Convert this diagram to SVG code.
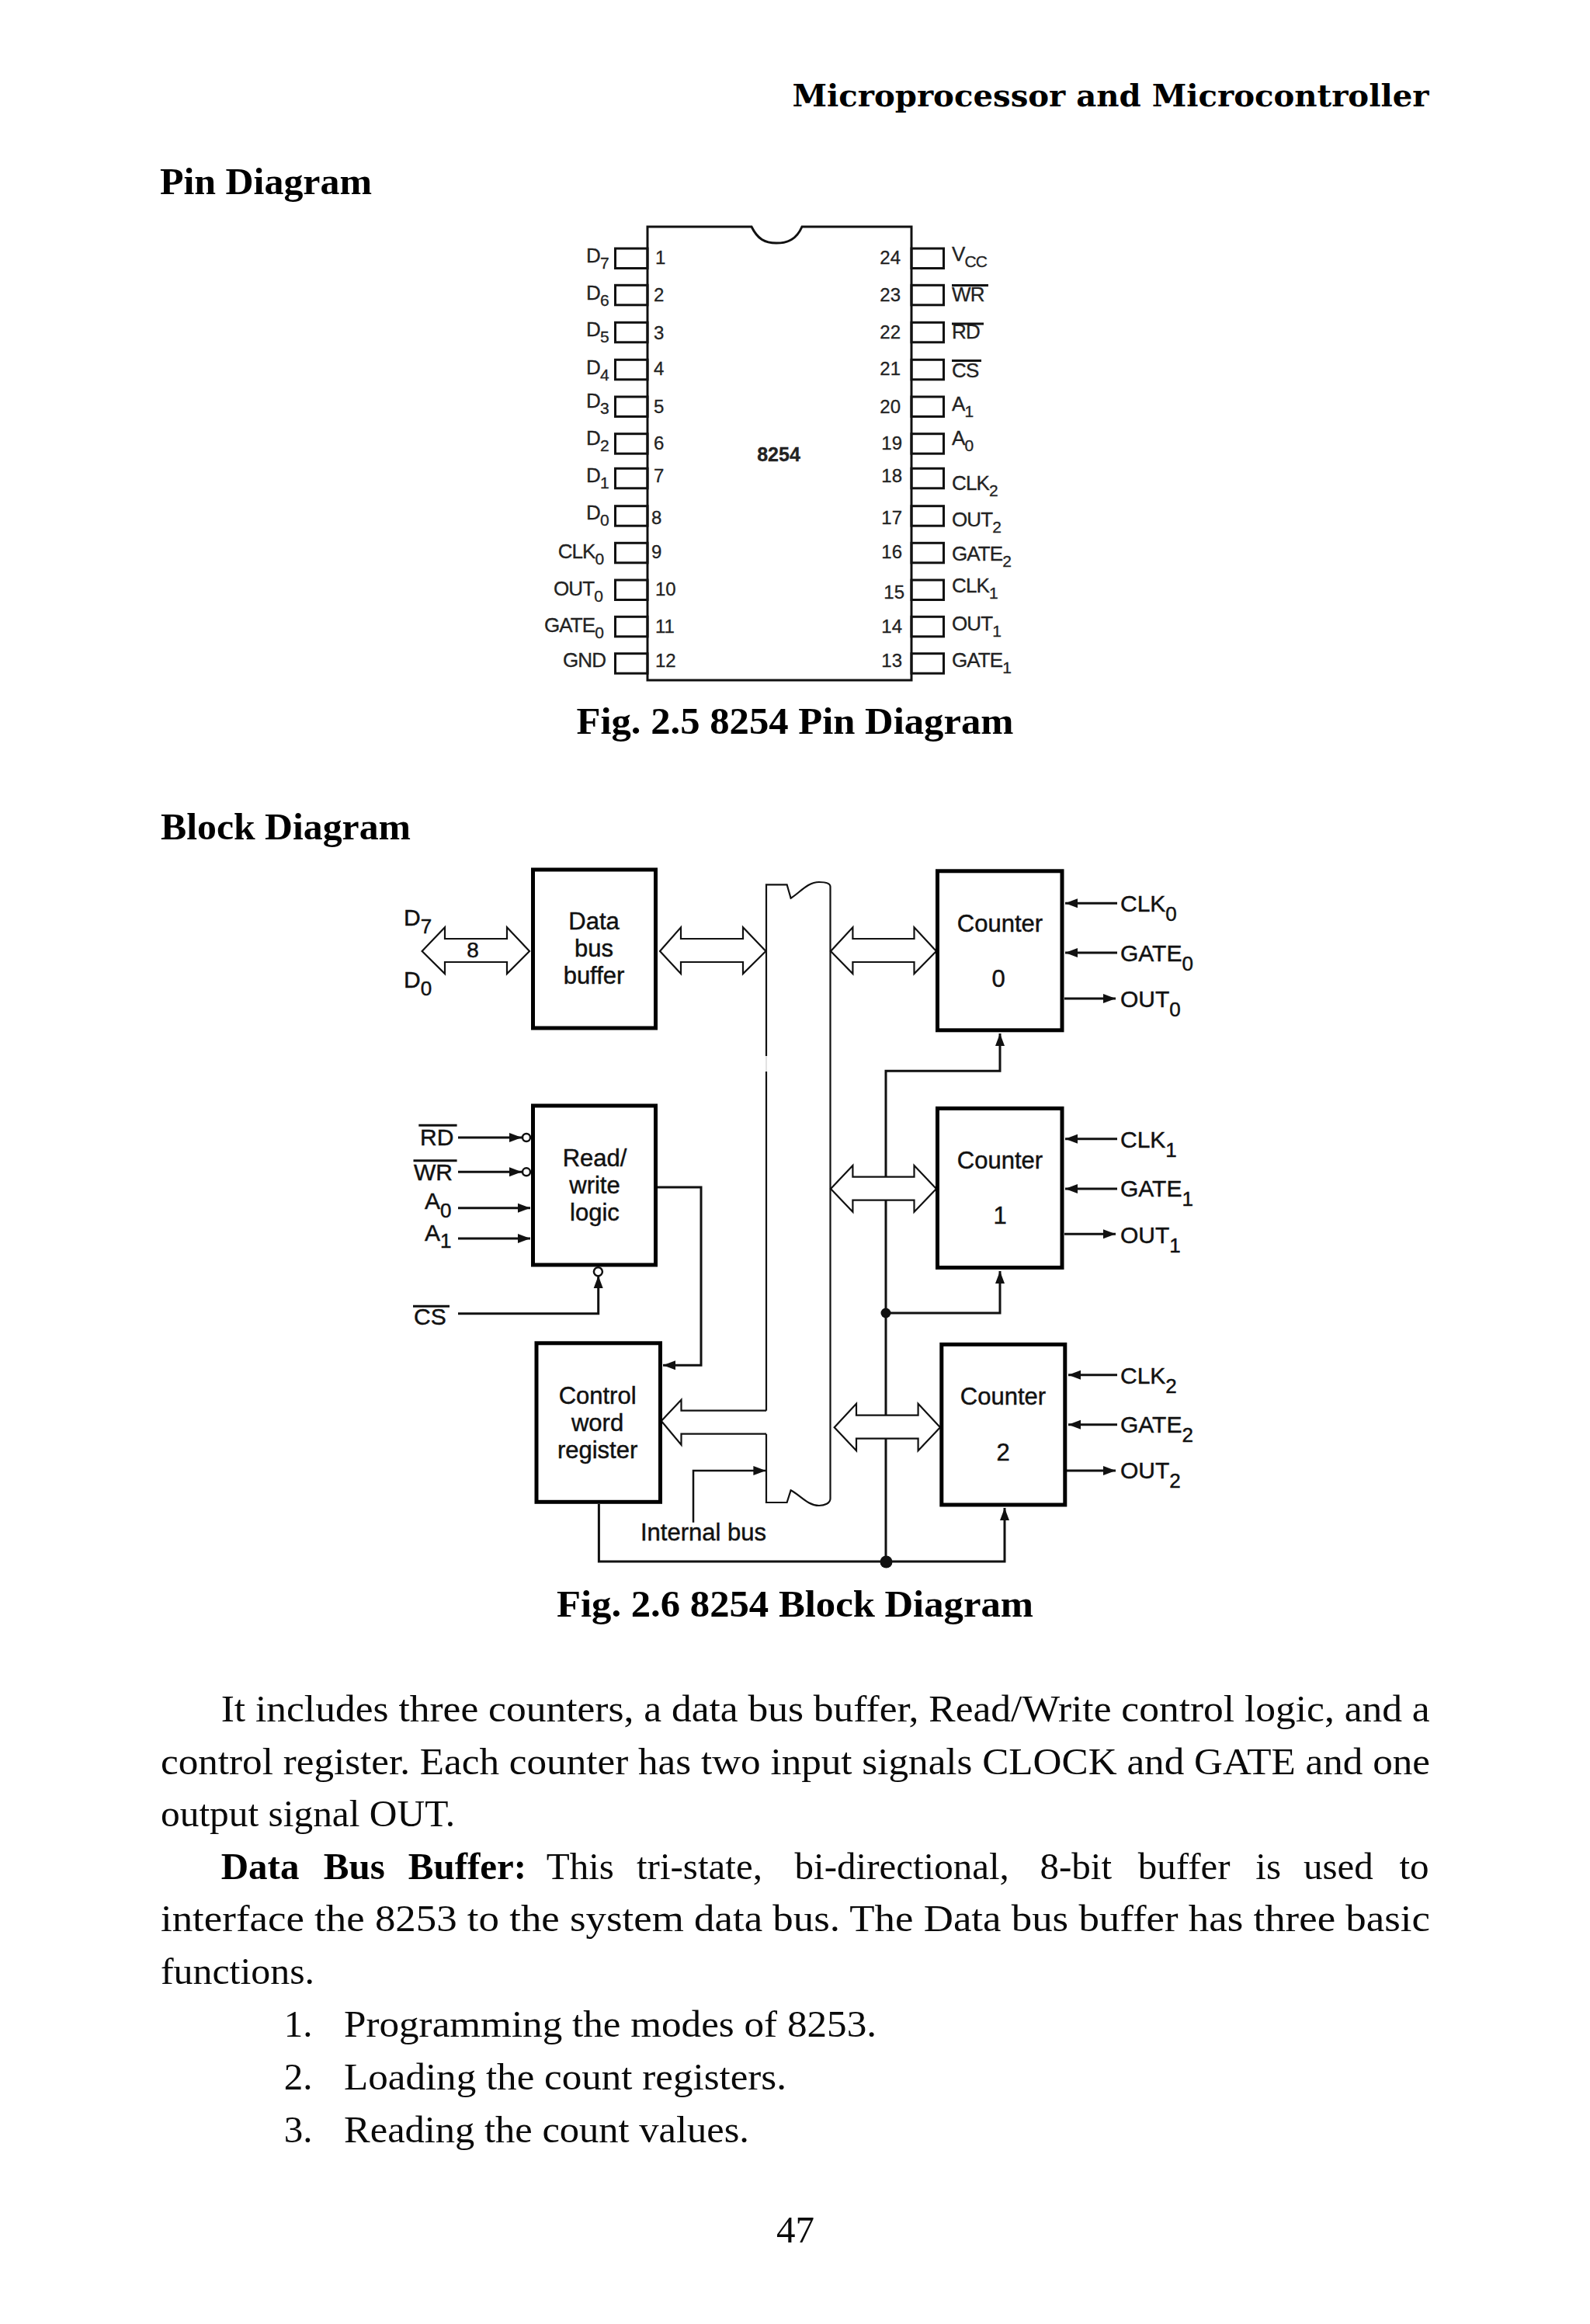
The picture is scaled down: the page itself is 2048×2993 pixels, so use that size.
<svg xmlns="http://www.w3.org/2000/svg" width="2048" height="2993" viewBox="0 0 2048 2993">
<style>
text{fill:#000}
.b{font-family:"Liberation Serif",serif;font-size:49px;fill:#0a0a0a}
.h{font-family:"Liberation Serif",serif;font-size:49px;font-weight:bold}
.hd{font-family:"DejaVu Serif",serif;font-size:40px;font-weight:bold}
.p{font-family:"Liberation Sans",sans-serif;font-size:26px;fill:#222;letter-spacing:-.9px;stroke:#222;stroke-width:.3}
.n{font-family:"Liberation Sans",sans-serif;font-size:24px;fill:#222;stroke:#222;stroke-width:.3}
.ps{font-size:21px}
.d{font-family:"Liberation Sans",sans-serif;font-size:31px;fill:#111;stroke:#111;stroke-width:.45}
.c{text-anchor:middle}
.l{font-family:"Liberation Sans",sans-serif;font-size:30px;fill:#111;stroke:#111;stroke-width:.45}
.s{font-size:26px}
.pin,.chip{fill:none;stroke:#111;stroke-width:3}
.box{fill:#fff;stroke:#000;stroke-width:5}
.w{fill:#fff;stroke:#111;stroke-width:2.2}
.t{fill:none;stroke:#111;stroke-width:2.2}
.k{fill:none;stroke:#111;stroke-width:3}
.inv{fill:#fff;stroke:#111;stroke-width:2.5}
</style>
<defs>
<marker id="a" markerUnits="userSpaceOnUse" markerWidth="18" markerHeight="14" refX="17" refY="7" orient="auto"><path d="M1,1 L17,7 L1,13 Z" fill="#111"/></marker>
</defs>
<rect width="2048" height="2993" fill="#fff"/>

<g id="page-text">
<text class="hd" x="1020.5" y="137" textLength="820" lengthAdjust="spacingAndGlyphs">Microprocessor and Microcontroller</text>
<text class="h" x="206" y="250" textLength="273" lengthAdjust="spacingAndGlyphs">Pin Diagram</text>
<text class="h" x="742.5" y="945" textLength="563" lengthAdjust="spacingAndGlyphs">Fig. 2.5 8254 Pin Diagram</text>
<text class="h" x="207" y="1081" textLength="322" lengthAdjust="spacingAndGlyphs">Block Diagram</text>
<text class="h" x="717" y="2082" textLength="614" lengthAdjust="spacingAndGlyphs">Fig. 2.6 8254 Block Diagram</text>
<text class="b" x="284.7" y="2217.3" textLength="1557" lengthAdjust="spacingAndGlyphs">It includes three counters, a data bus buffer, Read/Write control logic, and a</text>
<text class="b" x="207" y="2285" textLength="1635" lengthAdjust="spacingAndGlyphs">control register. Each counter has two input signals CLOCK and GATE and one</text>
<text class="b" x="207" y="2352.4" textLength="379" lengthAdjust="spacingAndGlyphs">output signal OUT.</text>
<text class="h" y="2420"><tspan x="284.7">Data </tspan><tspan x="416.8">Bus </tspan><tspan x="525.8">Buffer:</tspan></text>
<text class="b" y="2420"><tspan x="703.8">This </tspan><tspan x="820">tri-state, </tspan><tspan x="1023.6">bi-directional, </tspan><tspan x="1339.5">8-bit </tspan><tspan x="1465.8">buffer </tspan><tspan x="1617.3">is </tspan><tspan x="1679">used </tspan><tspan x="1802.5">to</tspan></text>
<text class="b" x="207" y="2487.4" textLength="1635" lengthAdjust="spacingAndGlyphs">interface the 8253 to the system data bus. The Data bus buffer has three basic</text>
<text class="b" x="207" y="2555" textLength="198" lengthAdjust="spacingAndGlyphs">functions.</text>
<text class="b" x="365.7" y="2623.3">1.</text>
<text class="b" x="443" y="2623.3" textLength="686" lengthAdjust="spacingAndGlyphs">Programming the modes of 8253.</text>
<text class="b" x="365.7" y="2691">2.</text>
<text class="b" x="443" y="2691" textLength="570" lengthAdjust="spacingAndGlyphs">Loading the count registers.</text>
<text class="b" x="365.7" y="2759">3.</text>
<text class="b" x="443" y="2759" textLength="522" lengthAdjust="spacingAndGlyphs">Reading the count values.</text>
<text class="b c" x="1024.5" y="2888.3">47</text>
</g>

<g id="chip-8254">
<path class="chip" d="M834,292 H968 C976,308 985,313 1000,313 C1015,313 1026,308 1033,292 H1174 V876 H834 Z"/>
<text class="n c" x="1003" y="594" style="font-size:25px;font-weight:bold">8254</text>
</g>
<g id="pins-left">
<rect class="pin" x="792.5" y="320" width="41.5" height="25.5"/><text class="p" x="755" y="338.3">D<tspan class="ps" dy="8">7</tspan></text><text class="n" x="844" y="340">1</text>
<rect class="pin" x="792.5" y="367.3" width="41.5" height="25.5"/><text class="p" x="755" y="385.7">D<tspan class="ps" dy="8">6</tspan></text><text class="n" x="842" y="388">2</text>
<rect class="pin" x="792.5" y="415.3" width="41.5" height="25.5"/><text class="p" x="755" y="433.3">D<tspan class="ps" dy="8">5</tspan></text><text class="n" x="842" y="436.7">3</text>
<rect class="pin" x="792.5" y="463.3" width="41.5" height="25.5"/><text class="p" x="755" y="481.7">D<tspan class="ps" dy="8">4</tspan></text><text class="n" x="842" y="483">4</text>
<rect class="pin" x="792.5" y="511" width="41.5" height="25.5"/><text class="p" x="755" y="525">D<tspan class="ps" dy="8">3</tspan></text><text class="n" x="842" y="531.7">5</text>
<rect class="pin" x="792.5" y="558.7" width="41.5" height="25.5"/><text class="p" x="755" y="573">D<tspan class="ps" dy="8">2</tspan></text><text class="n" x="842" y="579">6</text>
<rect class="pin" x="792.5" y="603.3" width="41.5" height="25.5"/><text class="p" x="755" y="620.7">D<tspan class="ps" dy="8">1</tspan></text><text class="n" x="842" y="620.7">7</text>
<rect class="pin" x="792.5" y="651.7" width="41.5" height="25.5"/><text class="p" x="755" y="669">D<tspan class="ps" dy="8">0</tspan></text><text class="n" x="839" y="675">8</text>
<rect class="pin" x="792.5" y="699.3" width="41.5" height="25.5"/><text class="p" x="718.7" y="719">CLK<tspan class="ps" dy="8">0</tspan></text><text class="n" x="839" y="719">9</text>
<rect class="pin" x="792.5" y="747" width="41.5" height="25.5"/><text class="p" x="713" y="766.7">OUT<tspan class="ps" dy="8">0</tspan></text><text class="n" x="844" y="767">10</text>
<rect class="pin" x="792.5" y="794.3" width="41.5" height="25.5"/><text class="p" x="701" y="814">GATE<tspan class="ps" dy="8">0</tspan></text><text class="n" x="844" y="815">11</text>
<rect class="pin" x="792.5" y="841.7" width="41.5" height="25.5"/><text class="p" x="725" y="859">GND</text><text class="n" x="844" y="859">12</text>
</g>
<g id="pins-right">
<rect class="pin" x="1174" y="320" width="41.5" height="25.5"/><text class="n" x="1160" y="340" text-anchor="end">24</text><text class="p" x="1226" y="336">V<tspan class="ps" dy="8">CC</tspan></text>
<rect class="pin" x="1174" y="367.3" width="41.5" height="25.5"/><text class="n" x="1160" y="388" text-anchor="end">23</text><text class="p" x="1226" y="388">WR</text><path class="k" d="M1226,367.5 H1273"/>
<rect class="pin" x="1174" y="415.3" width="41.5" height="25.5"/><text class="n" x="1160" y="435.7" text-anchor="end">22</text><text class="p" x="1226" y="436">RD</text><path class="k" d="M1226,417 H1267"/>
<rect class="pin" x="1174" y="463.3" width="41.5" height="25.5"/><text class="n" x="1160" y="483" text-anchor="end">21</text><text class="p" x="1226" y="486">CS</text><path class="k" d="M1226,464.5 H1264"/>
<rect class="pin" x="1174" y="511" width="41.5" height="25.5"/><text class="n" x="1160" y="531.7" text-anchor="end">20</text><text class="p" x="1226" y="529">A<tspan class="ps" dy="8">1</tspan></text>
<rect class="pin" x="1174" y="558.7" width="41.5" height="25.5"/><text class="n" x="1162" y="579" text-anchor="end">19</text><text class="p" x="1226" y="573">A<tspan class="ps" dy="8">0</tspan></text>
<rect class="pin" x="1174" y="603.3" width="41.5" height="25.5"/><text class="n" x="1162" y="620.7" text-anchor="end">18</text><text class="p" x="1226" y="630.7">CLK<tspan class="ps" dy="8">2</tspan></text>
<rect class="pin" x="1174" y="651.7" width="41.5" height="25.5"/><text class="n" x="1162" y="675" text-anchor="end">17</text><text class="p" x="1226" y="677.7">OUT<tspan class="ps" dy="8">2</tspan></text>
<rect class="pin" x="1174" y="699.3" width="41.5" height="25.5"/><text class="n" x="1162" y="719" text-anchor="end">16</text><text class="p" x="1226" y="722">GATE<tspan class="ps" dy="8">2</tspan></text>
<rect class="pin" x="1174" y="747" width="41.5" height="25.5"/><text class="n" x="1165" y="770.7" text-anchor="end">15</text><text class="p" x="1226" y="763">CLK<tspan class="ps" dy="8">1</tspan></text>
<rect class="pin" x="1174" y="794.3" width="41.5" height="25.5"/><text class="n" x="1162" y="815" text-anchor="end">14</text><text class="p" x="1226" y="811.7">OUT<tspan class="ps" dy="8">1</tspan></text>
<rect class="pin" x="1174" y="841.7" width="41.5" height="25.5"/><text class="n" x="1162" y="859" text-anchor="end">13</text><text class="p" x="1226" y="859">GATE<tspan class="ps" dy="8">1</tspan></text>
</g>

<g id="connectors">
<path class="t" d="M987,1360 V1139.3 H1013.6 L1018.6,1156.7 C1030,1150 1040,1136 1055,1136 C1062,1136 1069.5,1137 1069.5,1142 V1930 C1069.5,1936 1062,1939 1055,1939 C1040,1939 1030,1925 1018.6,1919.3 L1013.6,1935 H987 V1846.7"/>
<path class="t" d="M987,1380 V1816.7"/>
<path d="M987,1360 V1380" fill="none" stroke="#e2e2e2" stroke-width="2"/>
<path class="w" d="M543.6,1225 L573,1194.3 V1209 H653 V1194.3 L682,1225 L653,1254 V1239 H573 V1254 Z"/>
<path class="w" d="M850,1225 L877,1194.3 V1209 H957 V1194.3 L986.4,1225 L957,1254 V1239 H877 V1254 Z"/>
<path class="w" d="M1070,1225 L1098.4,1194.3 V1209 H1177.5 V1194.3 L1206,1225 L1177.5,1254 V1239 H1098.4 V1254 Z"/>
<path class="w" d="M1070,1531 L1098.4,1501 V1515.7 H1177.5 V1501 L1206,1531 L1177.5,1560.7 V1545.7 H1098.4 V1560.7 Z"/>
<path class="w" d="M1074.7,1838.3 L1103,1807.7 V1822.7 H1182.6 V1807.7 L1211,1838.3 L1182.6,1868.3 V1852.7 H1103 V1868.3 Z"/>
<path class="t" d="M987,1816.7 H877.5 V1802.7 L851.8,1830 L877.5,1860.7 V1846.7 H987"/>
<path class="k" d="M1141,1515.7 V1379.3 H1288 V1331" marker-end="url(#a)"/>
<path class="k" d="M1141,1545.7 V1822.7"/>
<path class="k" d="M1141,1691 H1288 V1637" marker-end="url(#a)"/>
<path class="k" d="M1141,1852.7 V2011"/>
<path class="k" d="M771.4,1937 V2011 H1294 V1942" marker-end="url(#a)"/>
<circle cx="1141" cy="1691" r="6.5" fill="#111"/>
<circle cx="1141.5" cy="2011.5" r="8" fill="#111"/>
<path class="k" d="M1439,1163.3 H1372" marker-end="url(#a)"/>
<path class="k" d="M1439,1227 H1372" marker-end="url(#a)"/>
<path class="k" d="M1371,1286 H1437" marker-end="url(#a)"/>
<path class="k" d="M1439,1466.7 H1372" marker-end="url(#a)"/>
<path class="k" d="M1439,1531 H1372" marker-end="url(#a)"/>
<path class="k" d="M1371,1589.3 H1437" marker-end="url(#a)"/>
<path class="k" d="M1439,1770.7 H1376" marker-end="url(#a)"/>
<path class="k" d="M1439,1834.7 H1376" marker-end="url(#a)"/>
<path class="k" d="M1369,1894 H1437" marker-end="url(#a)"/>
<path class="k" d="M590,1465 H672" marker-end="url(#a)"/>
<path class="k" d="M590,1509.3 H672" marker-end="url(#a)"/>
<circle class="inv" cx="678" cy="1465" r="5"/>
<circle class="inv" cx="678" cy="1509.3" r="5"/>
<path class="k" d="M590,1555.7 H683" marker-end="url(#a)"/>
<path class="k" d="M590,1595 H683" marker-end="url(#a)"/>
<path class="k" d="M590,1691.7 H770.7 V1643" marker-end="url(#a)"/>
<circle class="inv" cx="770.4" cy="1637.7" r="5.5"/>
<path class="k" d="M847,1529 H903 V1758.3 H854" marker-end="url(#a)"/>
<path class="k" d="M893,1960.7 V1894 H986.4" marker-end="url(#a)" style="stroke-width:2.5"/>
</g>

<g id="data-bus-buffer">
<rect class="box" x="686.5" y="1120" width="158" height="204"/>
<text class="d c" x="765" y="1196.7">Data</text><text class="d c" x="765" y="1232.3">bus</text><text class="d c" x="765" y="1267.3">buffer</text>
</g>
<g id="read-write-logic">
<rect class="box" x="686.5" y="1424" width="158" height="205"/>
<text class="d c" x="766" y="1501.7">Read/</text><text class="d c" x="766" y="1536.7">write</text><text class="d c" x="766" y="1572.3">logic</text>
</g>
<g id="control-word-register">
<rect class="box" x="691" y="1729.8" width="159.5" height="204.5"/>
<text class="d c" x="769.6" y="1807.7">Control</text><text class="d c" x="769.6" y="1842.7">word</text><text class="d c" x="769.6" y="1878.3">register</text>
</g>
<g id="counter-0">
<rect class="box" x="1207.5" y="1121.8" width="160.5" height="205"/>
<text class="d c" x="1288" y="1200">Counter</text><text class="d c" x="1286" y="1271">0</text>
</g>
<g id="counter-1">
<rect class="box" x="1207.5" y="1427.5" width="160.5" height="205"/>
<text class="d c" x="1288" y="1505">Counter</text><text class="d c" x="1288" y="1575.7">1</text>
</g>
<g id="counter-2">
<rect class="box" x="1212.8" y="1731.5" width="159" height="206.5"/>
<text class="d c" x="1292" y="1809.3">Counter</text><text class="d c" x="1292" y="1880.7">2</text>
</g>

<g id="signal-labels">
<text class="l" x="520" y="1191.7">D<tspan class="s" dy="10">7</tspan></text>
<text class="l" x="520" y="1271.7">D<tspan class="s" dy="10">0</tspan></text>
<text class="l c" x="609" y="1233" style="font-size:28px">8</text>
<text class="l" x="541" y="1475">RD</text><path class="k" d="M539.3,1449.3 H588.6"/>
<text class="l" x="533" y="1520">WR</text><path class="k" d="M532.5,1494.7 H588.6"/>
<text class="l" x="547" y="1556.7">A<tspan class="s" dy="11">0</tspan></text>
<text class="l" x="547" y="1598.3">A<tspan class="s" dy="9">1</tspan></text>
<text class="l" x="533" y="1705.7">CS</text><path class="k" d="M532,1682.3 H579"/>
<text class="d" x="825" y="1984.3">Internal bus</text>
<text class="l" x="1443" y="1174">CLK<tspan class="s" dy="12">0</tspan></text>
<text class="l" x="1443" y="1237.7">GATE<tspan class="s" dy="12">0</tspan></text>
<text class="l" x="1443" y="1296.7">OUT<tspan class="s" dy="12">0</tspan></text>
<text class="l" x="1443" y="1477.7">CLK<tspan class="s" dy="12">1</tspan></text>
<text class="l" x="1443" y="1540.7">GATE<tspan class="s" dy="12">1</tspan></text>
<text class="l" x="1443" y="1600.7">OUT<tspan class="s" dy="12">1</tspan></text>
<text class="l" x="1443" y="1781.7">CLK<tspan class="s" dy="12">2</tspan></text>
<text class="l" x="1443" y="1845">GATE<tspan class="s" dy="12">2</tspan></text>
<text class="l" x="1443" y="1904.3">OUT<tspan class="s" dy="12">2</tspan></text>
</g>
</svg>
